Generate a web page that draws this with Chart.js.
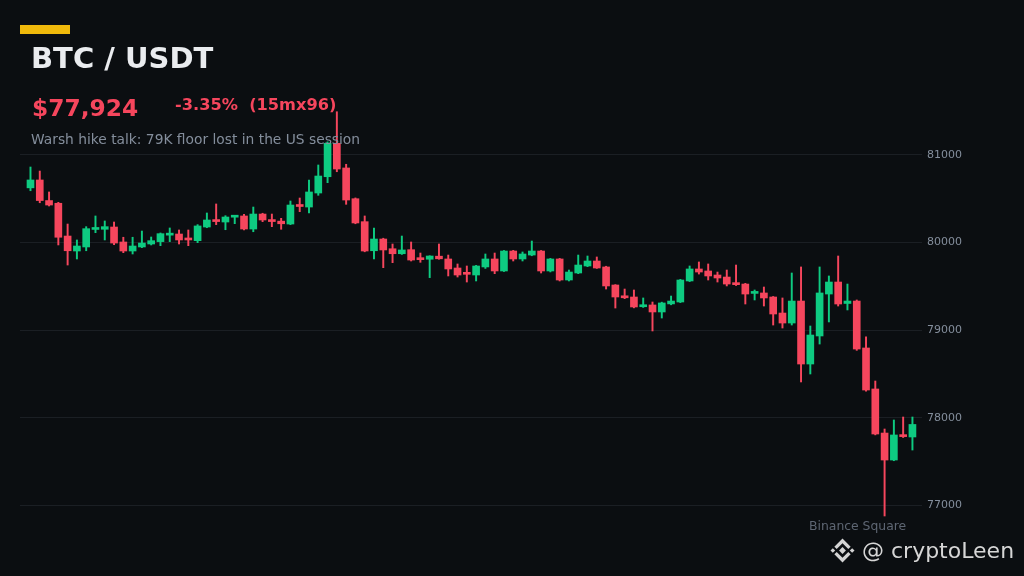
<!DOCTYPE html>
<html><head><meta charset="utf-8">
<script src="https://cdn.jsdelivr.net/npm/chart.js@4.4.0/dist/chart.umd.min.js"></script>
<style>
html,body{margin:0;padding:0;background:#0b0e11;width:1024px;height:576px;overflow:hidden;font-family:"DejaVu Sans",sans-serif;}
#wrap{position:relative;width:1024px;height:576px;}
#c{position:absolute;left:0;top:0;}
.t{position:absolute;line-height:1;white-space:pre;font-family:"DejaVu Sans",sans-serif;}
</style></head><body>
<div id="wrap">
<canvas id="c" width="1024" height="576"></canvas>
<div style="position:absolute;left:20px;top:25px;width:50px;height:9px;background:#f0b90b"></div>
<div class="t" style="left:31px;top:43.8px;font-size:29px;font-weight:bold;color:#eaecef">BTC / USDT</div>
<div class="t" style="left:32px;top:96.3px;font-size:23.3px;font-weight:bold;color:#f6465d">$77,924</div>
<div class="t" style="left:175px;top:97.2px;font-size:16.2px;font-weight:bold;color:#f6465d">-3.35%  (15mx96)</div>
<div class="t" style="left:31px;top:133.3px;font-size:13.8px;color:#848e9c">Warsh hike talk: 79K floor lost in the US session</div>
<div class="t" style="left:809px;top:519.5px;font-size:12.4px;color:#5e6673">Binance Square</div>
<svg style="position:absolute;left:829px;top:537px" width="27" height="27" viewBox="0 0 126 126">
<g fill="#d4d4d4">
<polygon points="63,47 79,63 63,79 47,63"/>
<polygon points="18,52 29,63 18,74 7,63"/>
<polygon points="108,52 119,63 108,74 97,63"/>
<polygon points="63,7 101,45 90,56 63,29 36,56 25,45"/>
<polygon points="63,119 25,81 36,70 63,97 90,70 101,81"/>
</g></svg>
<div class="t" style="left:862px;top:539.7px;font-size:22px;color:#d6d6d6">@ cryptoLeen</div>
</div>
<script>
// 96 x 15m candles, BTC/USDT
const candleIndex = Array.from({length:96},(_, i)=>i);
const opens  = [80625,80715,80480,80449,80075,79904,79950,80150,80152,80178,80007,79904,79950,79984,80011,80085,80098,80045,80022,80178,80261,80235,80290,80304,80155,80326,80260,80245,80212,80430,80406,80566,80752,81134,80852,80501,80239,79907,80041,79930,79873,79919,79820,79810,79845,79813,79710,79648,79630,79722,79813,79676,79904,79813,79858,79904,79676,79813,79573,79653,79733,79790,79722,79516,79390,79379,79268,79288,79208,79300,79322,79562,79699,79676,79630,79607,79535,79527,79420,79425,79379,79196,79082,79333,78614,78934,79413,79550,79305,79333,78797,78329,77826,77518,77804,77781];
const highs  = [80863,80817,80578,80460,80212,80030,80182,80304,80247,80235,80061,80061,80132,80064,80110,80167,80144,80144,80205,80338,80441,80307,80310,80323,80406,80335,80326,80277,80475,80509,80715,80886,81150,81494,80894,80510,80304,80167,80050,79984,80075,80007,79881,79850,79984,79858,79756,79733,79740,79870,79881,79910,79912,79893,80018,79910,79820,79820,79687,79858,79847,79836,79730,79520,79470,79459,79368,79322,79320,79390,79580,79733,79779,79756,79664,79687,79744,79535,79459,79493,79385,79368,79653,79722,79048,79722,79619,79847,79527,79345,78923,78420,77872,77975,78009,78009];
const lows   = [80592,80455,80418,79973,79744,79813,79907,80113,80030,79976,79885,79870,79942,79973,79965,80011,79984,79965,79999,80170,80205,80147,80216,80144,80124,80239,80182,80152,80205,80353,80338,80540,80684,80809,80437,80215,79895,79813,79714,79771,79865,79790,79775,79600,79810,79619,79607,79550,79562,79705,79645,79670,79790,79790,79850,79653,79665,79562,79562,79645,79725,79705,79470,79253,79360,79255,79260,78991,79139,79290,79315,79555,79641,79573,79550,79505,79510,79299,79345,79276,79059,79025,79059,78409,78500,78842,79094,79276,79231,78770,78305,77805,76879,77510,77775,77632];
const closes = [80715,80480,80429,80061,79907,79961,80159,80167,80182,79995,79904,79961,79995,80022,80102,80100,80030,80030,80190,80258,80240,80292,80305,80155,80326,80258,80240,80215,80429,80412,80578,80760,81134,80840,80486,80224,79904,80041,79916,79873,79916,79801,79805,79847,79815,79699,79630,79638,79733,79813,79676,79904,79813,79870,79904,79676,79813,79573,79664,79744,79790,79710,79505,79379,79370,79265,79288,79208,79311,79333,79573,79699,79664,79619,79596,79527,79520,79413,79436,79368,79185,79082,79333,78614,78945,79425,79550,79299,79333,78785,78317,77815,77518,77804,77785,77924];
const yTicks = [77000,78000,79000,80000,81000];

const GREEN = '#0ecb81', RED = '#f6465d';
const colors = candleIndex.map(i => closes[i] >= opens[i] ? GREEN : RED);

new Chart(document.getElementById('c'), {
  type: 'bar',
  data: {
    datasets: [
      { label: 'wick', data: candleIndex.map(i => ({x: i, y: [lows[i], highs[i]]})),
        backgroundColor: colors, barThickness: 1.3, grouped: false, order: 2 },
      { label: 'body', data: candleIndex.map(i => ({x: i, y: [opens[i], closes[i]]})),
        backgroundColor: colors, barThickness: 7, minBarLength: 2, grouped: false, order: 1 }
    ]
  },
  options: {
    responsive: false, animation: false, devicePixelRatio: 1,
    layout: { padding: { left: 20, top: 110, bottom: 56, right: 0 } },
    plugins: { legend: { display: false }, tooltip: { enabled: false } },
    scales: {
      x: { type: 'linear', min: -1.13, max: 96.03, offset: false, display: false },
      y: {
        position: 'right', min: 76833.3, max: 81513.7,
        afterBuildTicks: ax => { ax.ticks = yTicks.map(v => ({ value: v })); },
        afterFit: ax => { ax.width = 102; },
        ticks: { color: '#848e9c', font: { family: 'DejaVu Sans', size: 11 }, padding: 5, callback: v => String(v) },
        grid: { color: '#1b1f24', drawTicks: false, lineWidth: 1 },
        border: { display: false }
      }
    }
  }
});
</script>
</body></html>
